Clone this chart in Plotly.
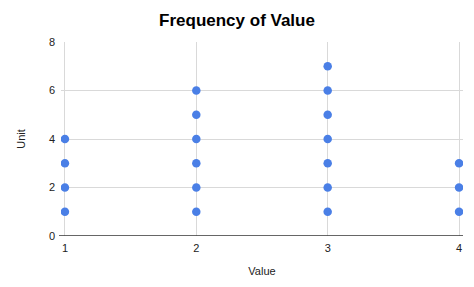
import plotly.graph_objects as go

values = [1, 1, 1, 1, 2, 2, 2, 2, 2, 2, 3, 3, 3, 3, 3, 3, 3, 4, 4, 4]
units = [1, 2, 3, 4, 1, 2, 3, 4, 5, 6, 1, 2, 3, 4, 5, 6, 7, 1, 2, 3]
x_ticks = [1, 2, 3, 4]
y_ticks = [0, 2, 4, 6, 8]

fig = go.Figure()
fig.add_trace(go.Scatter(
    x=values, y=units, mode="markers",
    marker=dict(color="#4a7fe6", size=8.5),
    showlegend=False,
))
fig.update_layout(
    width=474, height=287,
    margin=dict(l=61, r=11, t=42, b=48),
    paper_bgcolor="white", plot_bgcolor="white",
    font=dict(family="Liberation Sans, Arial, sans-serif", color="#222", size=11),
    title=dict(text="<b>Frequency of Value</b>", x=0.5, xanchor="center",
               y=0.93, yanchor="middle", font=dict(size=17, color="#000")),
)
fig.update_xaxes(
    range=[0.97, 4.03], tickvals=x_ticks, showgrid=True, gridcolor="#d9d9d9",
    zeroline=False, showline=False, ticks="", tickfont=dict(size=11),
    ticklabelstandoff=4,
    title=dict(text="Value", font=dict(size=11), standoff=14),
)
fig.update_yaxes(
    range=[0, 8], tickvals=y_ticks, showgrid=True, gridcolor="#d9d9d9",
    zeroline=False, showline=False, ticks="", tickfont=dict(size=11),
    ticklabelstandoff=5,
    title=dict(text="Unit", font=dict(size=11), standoff=21),
)
fig.add_shape(type="line", xref="paper", yref="y", x0=-0.005, x1=1, y0=0, y1=0,
              line=dict(color="#333", width=1.3))
fig.write_html("out.html")
